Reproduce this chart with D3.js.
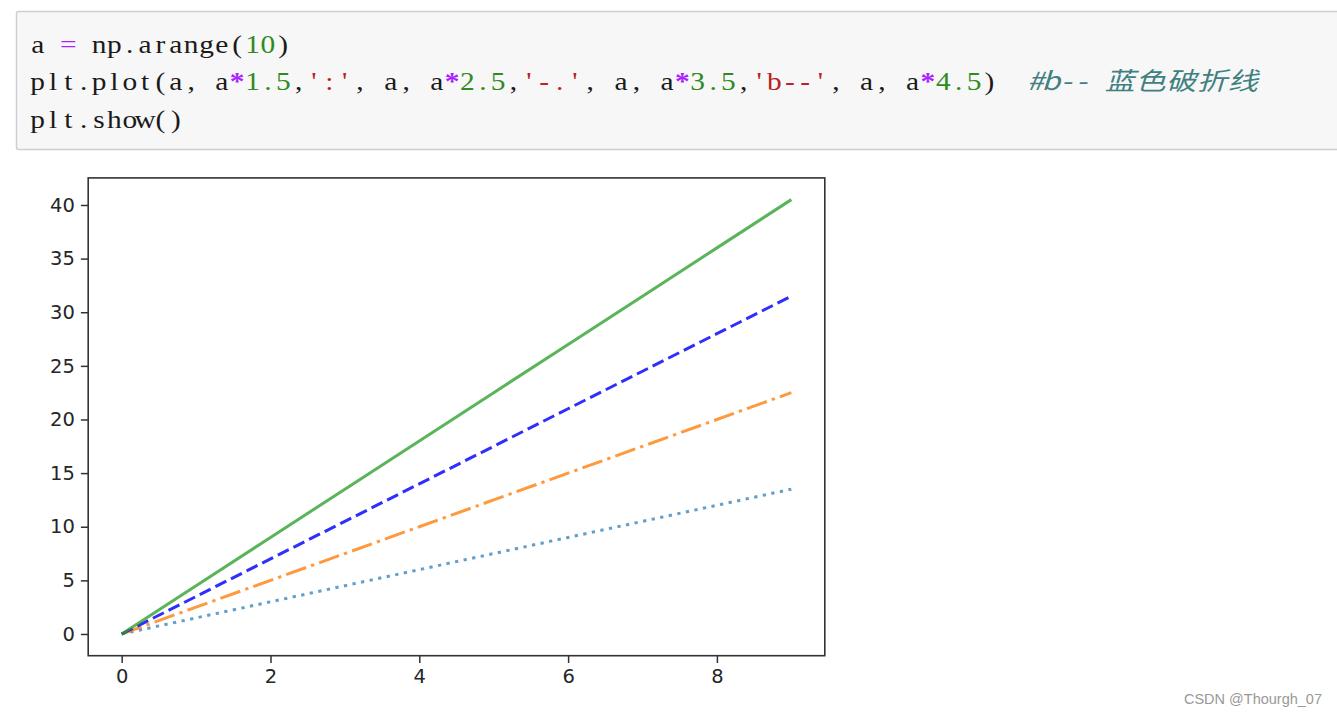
<!DOCTYPE html>
<html>
<head>
<meta charset="utf-8">
<script src="https://cdn.jsdelivr.net/npm/d3@7"></script>
<style>
  body { margin: 0; background: #fff; }
  svg { display: block; }
</style>
</head>
<body>
<svg width="1337" height="718"></svg>
<script>
// values (a, a*1.5, a*2.5, a*3.5, a*4.5)
let a = [0, 1, 2, 3, 4, 5, 6, 7, 8, 9];
let dotted = [0, 1.5, 3, 4.5, 6, 7.5, 9, 10.5, 12, 13.5];
let dashDot = [0, 2.5, 5, 7.5, 10, 12.5, 15, 17.5, 20, 22.5];
let dashed = [0, 3.5, 7, 10.5, 14, 17.5, 21, 24.5, 28, 31.5];
let solid = [0, 4.5, 9, 13.5, 18, 22.5, 27, 31.5, 36, 40.5];
let xTicks = [0, 2, 4, 6, 8];
let yTicks = [0, 5, 10, 15, 20, 25, 30, 35, 40];

// code cell text, split into coloured tokens
let codeLines = [
    [["a ", "t"], ["=", "o"], [" np.arange(", "t"], ["10", "n"], [")", "t"]],
    [["plt.plot(a, a", "t"], ["*", "o"], ["1.5", "n"], [",", "t"], ["':'", "s"], [", a, a", "t"], ["*", "o"], ["2.5", "n"], [",", "t"],
        ["'-.'", "s"], [", a, a", "t"], ["*", "o"], ["3.5", "n"], [",", "t"], ["'b--'", "s"], [", a, a", "t"], ["*", "o"], ["4.5", "n"],
        [")", "t"], ["  ", "t"], ["#b-- 蓝色破折线", "c"]],
    [["plt.show()", "t"]]
];
let tokenColor = {t: "#1a1a1a", o: "#aa22ff", n: "#2f8a1f", s: "#ba2121", c: "#408080"};

let svg = d3.select("svg");

// ---- code cell ----
svg.append("rect")
    .attr("x", 16.5).attr("y", 11.5)
    .attr("width", 1330).attr("height", 138)
    .attr("fill", "#f7f7f7")
    .attr("stroke", "#cfcfcf")
    .attr("stroke-width", 1.5)
    .attr("rx", 2);

let cell = 15.35, codeLeft = 30, lineY = [53, 90.5, 128], stretch = 1.2;
codeLines.forEach(function (tokens, li) {
    let text = svg.append("text")
        .attr("y", lineY[li])
        .attr("transform", "scale(" + stretch + ",1)")
        .attr("text-anchor", "middle")
        .style("font-family", "'Liberation Serif', 'Noto Sans CJK SC', serif")
        .style("font-size", "24.5px");
    let col = 0;
    tokens.forEach(function (tk) {
        let xs = [];
        let chars = Array.from(tk[0]);
        chars.forEach(function (ch) {
            let w = ch.charCodeAt(0) > 255 ? 2 : 1;
            xs.push((codeLeft + (col + w / 2) * cell) / stretch);
            col += w;
        });
        let ts = text.append("tspan")
            .attr("x", xs.join(" "))
            .attr("fill", tokenColor[tk[1]])
            .text(tk[0]);
        if (tk[1] === "o" && tk[0] === "*") ts.style("font-weight", "bold");
        if (tk[1] === "c") ts.style("font-style", "italic")
            .style("font-family", "'Noto Sans CJK SC', 'Liberation Serif', serif")
            .style("font-size", "25px");
    });
});

// ---- plot ----
let plotLeft = 88.2, plotRight = 824.8, plotTop = 177.9, plotBottom = 655.7;

let xExt = d3.extent(a), xPad = (xExt[1] - xExt[0]) * 0.05;
let yExt = [d3.min(dotted), d3.max(solid)], yPad = (yExt[1] - yExt[0]) * 0.05;

let x = d3.scaleLinear().domain([xExt[0] - xPad, xExt[1] + xPad]).range([plotLeft, plotRight]);
let y = d3.scaleLinear().domain([yExt[0] - yPad, yExt[1] + yPad]).range([plotBottom, plotTop]);

let pt = 2.2;
let series = [
    {values: dotted, color: "#1f77b4", dash: [1, 1.65], opacity: 0.7},
    {values: dashDot, color: "#ff7f0e", dash: [6.4, 1.6, 1, 1.6], opacity: 0.8},
    {values: dashed, color: "#0000ff", dash: [3.7, 1.6], opacity: 0.82},
    {values: solid, color: "#2ca02c", dash: null, opacity: 0.78}
];

let line = d3.line()
    .x((d, i) => x(a[i]))
    .y(d => y(d));

svg.append("defs").append("clipPath")
    .attr("id", "clip")
    .append("rect")
    .attr("x", plotLeft).attr("y", plotTop)
    .attr("width", plotRight - plotLeft).attr("height", plotBottom - plotTop);

let plot = svg.append("g").attr("clip-path", "url(#clip)");
series.forEach(function (s) {
    plot.append("path")
        .datum(s.values)
        .attr("d", line)
        .attr("fill", "none")
        .attr("stroke", s.color)
        .attr("stroke-opacity", s.opacity)
        .attr("stroke-width", 3)
        .attr("stroke-dasharray", s.dash ? s.dash.map(v => v * 1.5 * pt).join(" ") : null);
});

let xAxis = svg.append("g")
    .attr("transform", "translate(0," + plotBottom + ")")
    .call(d3.axisBottom(x).tickValues(xTicks).tickSize(7.3).tickPadding(6).tickSizeOuter(0));
let yAxis = svg.append("g")
    .attr("transform", "translate(" + plotLeft + ",0)")
    .call(d3.axisLeft(y).tickValues(yTicks).tickSize(7.3).tickPadding(6).tickSizeOuter(0));

[xAxis, yAxis].forEach(function (ax) {
    ax.select(".domain").remove();
    ax.selectAll(".tick line").attr("stroke", "#333").attr("stroke-width", 1.5);
    ax.selectAll(".tick text")
        .attr("fill", "#262626")
        .style("font-family", "'DejaVu Sans', sans-serif")
        .style("font-size", "19.5px");
});

// frame
svg.append("rect")
    .attr("x", plotLeft).attr("y", plotTop)
    .attr("width", plotRight - plotLeft).attr("height", plotBottom - plotTop)
    .attr("fill", "none")
    .attr("stroke", "#333")
    .attr("stroke-width", 1.6);

// watermark
svg.append("text")
    .attr("x", 1322).attr("y", 704)
    .attr("text-anchor", "end")
    .attr("fill", "#999")
    .style("font-family", "'Liberation Sans', sans-serif")
    .style("font-size", "14.5px")
    .text("CSDN @Thourgh_07");
</script>
</body>
</html>
